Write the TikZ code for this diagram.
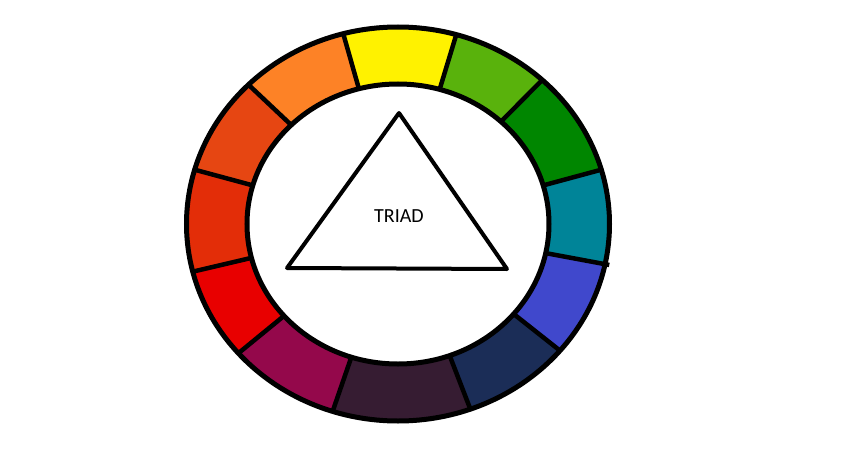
\documentclass[tikz,border=0pt]{standalone}
\usepackage{fontspec}
\setmainfont{Carlito}
\definecolor{wheelYellow}{RGB}{255,242,0}
\definecolor{wheelOrange}{RGB}{253,130,38}
\definecolor{wheelOrangeRed}{RGB}{230,70,18}
\definecolor{wheelRedOrange}{RGB}{227,45,8}
\definecolor{wheelRed}{RGB}{232,0,0}
\definecolor{wheelMagenta}{RGB}{148,8,75}
\definecolor{wheelPurple}{RGB}{54,28,50}
\definecolor{wheelNavy}{RGB}{27,45,87}
\definecolor{wheelBlue}{RGB}{64,72,204}
\definecolor{wheelTeal}{RGB}{0,132,152}
\definecolor{wheelDarkGreen}{RGB}{0,134,0}
\definecolor{wheelGreen}{RGB}{89,178,12}
\newcommand{\wheelSegment}[3][]{
	\fill[#1] (#2:211.5 and 197) arc[start angle=#2, end angle=#3, x radius=211.5, y radius=197]
		-- (#3:151 and 140) arc[start angle=#3, end angle=#2, x radius=151, y radius=140] -- cycle;
}
\newcommand{\wheelDivider}[2][211.5]{
	\draw[line width=4.5pt] (#2:151 and 140) -- (#2:#1 and 197);
}

\begin{document}
\begin{tikzpicture}[x=1pt, y=1pt]
	\useasboundingbox (-398,-229) rectangle (469,224);

	\wheelSegment[wheelTeal]{-12}{16};
	\wheelSegment[wheelDarkGreen]{16}{47};
	\wheelSegment[wheelGreen]{47}{74};
	\wheelSegment[wheelYellow]{74}{105};
	\wheelSegment[wheelOrange]{105}{135};
	\wheelSegment[wheelOrangeRed]{135}{164};
	\wheelSegment[wheelRedOrange]{164}{194};
	\wheelSegment[wheelRed]{194}{221};
	\wheelSegment[wheelMagenta]{221}{252};
	\wheelSegment[wheelPurple]{252}{290};
	\wheelSegment[wheelNavy]{290}{320};
	\wheelSegment[wheelBlue]{320}{348};

	\wheelDivider[216]{-12};
	\wheelDivider{16};
	\wheelDivider{47};
	\wheelDivider{74};
	\wheelDivider{105};
	\wheelDivider{135};
	\wheelDivider{164};
	\wheelDivider{194};
	\wheelDivider{221};
	\wheelDivider{252};
	\wheelDivider{290};
	\wheelDivider{320};

	\draw[line width=5pt] (0,0) ellipse[x radius=211.5, y radius=197];
	\draw[line width=5pt] (0,0) ellipse[x radius=151, y radius=140];

	\coordinate (apex) at (1,111);
	\coordinate (baseLeft) at (-111,-44);
	\coordinate (baseRight) at (109,-45);
	\draw[line width=4pt, line join=round] (apex) -- (baseLeft) -- (baseRight) -- cycle;
	\path (1,7.8) node[font=\fontsize{20}{24}\selectfont, text=black](triad){TRIAD};
\end{tikzpicture}
\end{document}
